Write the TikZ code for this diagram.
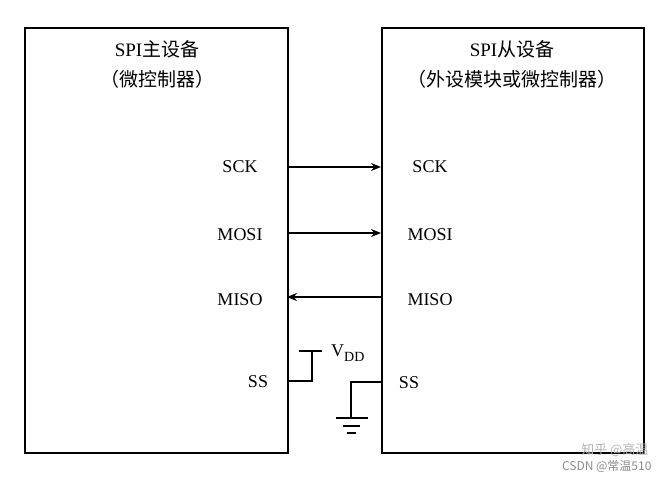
\documentclass[tikz,border=0pt]{standalone}
\usepackage{fontspec}
\usetikzlibrary{arrows.meta}
\setmainfont{Liberation Serif}
\newfontfamily\cjk{Noto Sans CJK SC}
\begin{document}
\begin{tikzpicture}[x=1pt,y=-1pt,
  box/.style={draw,line width=2pt},
  wire/.style={line width=2pt},
  sig/.style={line width=1.8pt,-{Stealth[length=10pt,width=8pt]}},
  lab/.style={font=\fontsize{18}{20}\selectfont},
  ttl/.style={font=\fontsize{19}{30}\selectfont,align=center}]
\useasboundingbox (0,0) rectangle (668,481);
\node[box,minimum width=263pt,minimum height=425pt,anchor=north west] (m) at (24,27) {};
\node[box,minimum width=262pt,minimum height=425pt,anchor=north west] (s) at (381,27) {};
\node[ttl] (mt) at (157,64) {SPI{\cjk 主设备}\\{\cjk （微控制器）}};
\node[ttl] (st) at (512,64) {SPI{\cjk 从设备}\\{\cjk （外设模块或微控制器）}};
\node[lab] (msck) at (240,167) {SCK};
\node[lab] (mmosi) at (240,235) {MOSI};
\node[lab] (mmiso) at (240,300) {MISO};
\node[lab] (mss) at (258,382) {SS};
\node[lab] (ssck) at (430,167) {SCK};
\node[lab] (smosi) at (430,235) {MOSI};
\node[lab] (smiso) at (430,300) {MISO};
\node[lab] (sss) at (409,383) {SS};
\coordinate (a1) at (287,167); \coordinate (b1) at (381,167);
\coordinate (a2) at (287,233); \coordinate (b2) at (381,233);
\coordinate (a3) at (287,297); \coordinate (b3) at (381,297);
\draw[sig] (a1) -- (b1);
\draw[sig] (a2) -- (b2);
\draw[sig] (b3) -- (a3);
\coordinate (v0) at (287,381);
\draw[wire] (v0) -- (312,381) -- (312,351);
\draw[wire] (299,351) -- (322,351);
\node[lab,anchor=west,inner sep=0] (vdd) at (331,353) {V\raisebox{-0.6ex}{\fontsize{14}{15}\selectfont DD}};
\coordinate (g0) at (381,382);
\draw[wire] (g0) -- (351,382) -- (351,418);
\draw[wire] (336,418) -- (368,418);
\draw[wire] (343,426) -- (360,426);
\draw[wire] (347,433) -- (356,433);
\node[text=gray!60,font=\fontsize{13}{14}\selectfont\cjk,anchor=east] (w1) at (652,450) {知乎 @高温};
\node[text=gray!90,font=\fontsize{12}{13}\selectfont\cjk,anchor=east] (w2) at (655,466) {CSDN @常温510};
\end{tikzpicture}
\end{document}
